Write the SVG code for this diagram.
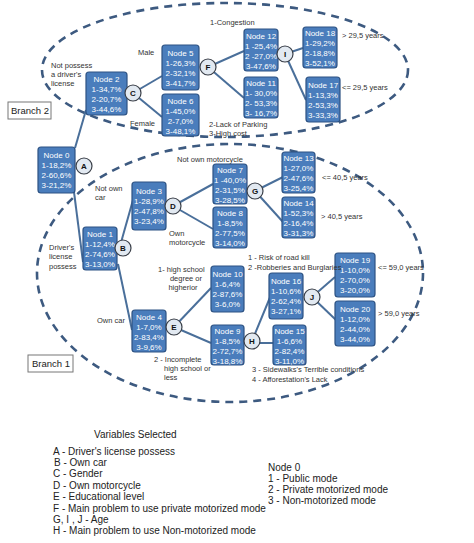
<svg xmlns="http://www.w3.org/2000/svg" width="474" height="543" viewBox="0 0 474 543">
<defs>
<style>
.bg{fill:#ffffff}
.ell{fill:none;stroke:#3d5a80;stroke-width:2.6;stroke-dasharray:8 6}
.box rect{fill:#4a7dbc;stroke:#2d5283;stroke-width:1.2}
.box text{fill:#ffffff;font-family:"Liberation Sans",Arial,sans-serif;font-size:8px;text-anchor:middle}
.cir circle{fill:#e2e9f1;stroke:#3a3f48;stroke-width:1.2}
.cir text{fill:#111;font-family:"Liberation Sans",Arial,sans-serif;font-size:8px;font-weight:bold;text-anchor:middle}
.con line{stroke:#4a6f9a;stroke-width:2}
.lbl{fill:#333;font-family:"Liberation Sans",Arial,sans-serif;font-size:7.5px}
.lblc{fill:#333;font-family:"Liberation Sans",Arial,sans-serif;font-size:7.5px;text-anchor:middle}
.br rect{fill:#fff;stroke:#777;stroke-width:1}
.br text{fill:#222;font-family:"Liberation Sans",Arial,sans-serif;font-size:9.5px}
.leg{fill:#222;font-family:"Liberation Sans",Arial,sans-serif;font-size:10px}
</style>
</defs>
<rect class="bg" x="0" y="0" width="474" height="543"/>
<g id="branches">
<ellipse class="ell" cx="225" cy="70" rx="183" ry="67"/>
<ellipse class="ell" cx="230" cy="273" rx="193" ry="129"/>
</g>
<g id="connectors" class="con">
<line x1="75" y1="148" x2="86" y2="110"/>
<line x1="74" y1="192" x2="83" y2="262"/>
<line x1="133" y1="93" x2="162" y2="76"/>
<line x1="133" y1="93" x2="162" y2="117"/>
<line x1="208" y1="67" x2="244" y2="51"/>
<line x1="208" y1="67" x2="244" y2="98"/>
<line x1="285" y1="54" x2="303" y2="48"/>
<line x1="285" y1="54" x2="306" y2="100"/>
<line x1="120" y1="246" x2="133" y2="200"/>
<line x1="118" y1="264" x2="132" y2="330"/>
<line x1="173" y1="206" x2="213" y2="184"/>
<line x1="173" y1="206" x2="213" y2="229"/>
<line x1="255" y1="191" x2="283" y2="177"/>
<line x1="255" y1="191" x2="283" y2="222"/>
<line x1="174" y1="327" x2="211" y2="288"/>
<line x1="174" y1="327" x2="211" y2="343"/>
<line x1="252" y1="341" x2="271" y2="295"/>
<line x1="252" y1="343" x2="273" y2="343"/>
<line x1="312" y1="297" x2="335" y2="277"/>
<line x1="312" y1="297" x2="336" y2="320"/>
</g>
<g id="node0" class="box"><rect x="38" y="147" width="37" height="46" rx="3"/><text x="56.5" y="158">Node 0</text><text x="56.5" y="168">1-18,2%</text><text x="56.5" y="178">2-60,6%</text><text x="56.5" y="188">3-21,2%</text></g>
<g id="node1" class="box"><rect x="83" y="227" width="34" height="43" rx="3"/><text x="100" y="237">Node 1</text><text x="100" y="247">1-12,4%</text><text x="100" y="257">2-74,6%</text><text x="100" y="267">3-13,0%</text></g>
<g id="node2" class="box"><rect x="86" y="72" width="41" height="43" rx="3"/><text x="106.5" y="82">Node 2</text><text x="106.5" y="92">1-34,7%</text><text x="106.5" y="102">2-20,7%</text><text x="106.5" y="112">3-44,6%</text></g>
<g id="node3" class="box"><rect x="132" y="182" width="34" height="48" rx="3"/><text x="149" y="194">Node 3</text><text x="149" y="204">1-28,9%</text><text x="149" y="214">2-47,8%</text><text x="149" y="224">3-23,4%</text></g>
<g id="node4" class="box"><rect x="132" y="310" width="34" height="42" rx="3"/><text x="149" y="320">Node 4</text><text x="149" y="330">1-7,0%</text><text x="149" y="340">2-83,4%</text><text x="149" y="350">3-9,6%</text></g>
<g id="node5" class="box"><rect x="162" y="45" width="37" height="45" rx="3"/><text x="180.5" y="56">Node 5</text><text x="180.5" y="66">1-26,3%</text><text x="180.5" y="76">2-32,1%</text><text x="180.5" y="86">3-41,7%</text></g>
<g id="node6" class="box"><rect x="162" y="94" width="37" height="42" rx="3"/><text x="180.5" y="104">Node 6</text><text x="180.5" y="114">1-45,0%</text><text x="180.5" y="124">2-7,0%</text><text x="180.5" y="134">3-48,1%</text></g>
<g id="node7" class="box"><rect x="213" y="164" width="34" height="40" rx="3"/><text x="230" y="173">Node 7</text><text x="230" y="183">1 -40,0%</text><text x="230" y="193">2-31,5%</text><text x="230" y="203">3-28,5%</text></g>
<g id="node8" class="box"><rect x="213" y="207" width="34" height="41" rx="3"/><text x="230" y="216">Node 8</text><text x="230" y="226">1-8,5%</text><text x="230" y="236">2-77,5%</text><text x="230" y="246">3-14,0%</text></g>
<g id="node9" class="box"><rect x="211" y="325" width="33" height="40" rx="3"/><text x="227.5" y="334">Node 9</text><text x="227.5" y="344">1-8,5%</text><text x="227.5" y="354">2-72,7%</text><text x="227.5" y="364">3-18,8%</text></g>
<g id="node10" class="box"><rect x="211" y="266" width="33" height="46" rx="3"/><text x="227.5" y="277">Node 10</text><text x="227.5" y="287">1-6,4%</text><text x="227.5" y="297">2-87,6%</text><text x="227.5" y="307">3-6,0%</text></g>
<g id="node11" class="box"><rect x="244" y="77" width="34" height="41" rx="3"/><text x="261" y="86">Node 11</text><text x="261" y="96">1- 30,0%</text><text x="261" y="106">2- 53,3%</text><text x="261" y="116">3- 16,7%</text></g>
<g id="node12" class="box"><rect x="244" y="29" width="34" height="42" rx="3"/><text x="261" y="39">Node 12</text><text x="261" y="49">1 -25,4%</text><text x="261" y="59">2 -27,0%</text><text x="261" y="69">3-47,6%</text></g>
<g id="node13" class="box"><rect x="282" y="152" width="33" height="41" rx="3"/><text x="298.5" y="161">Node 13</text><text x="298.5" y="171">1-27,0%</text><text x="298.5" y="181">2-47,6%</text><text x="298.5" y="191">3-25,4%</text></g>
<g id="node14" class="box"><rect x="282" y="197" width="33" height="41" rx="3"/><text x="298.5" y="206">Node 14</text><text x="298.5" y="216">1-52,3%</text><text x="298.5" y="226">2-16,4%</text><text x="298.5" y="236">3-31,3%</text></g>
<g id="node15" class="box"><rect x="273" y="325" width="33" height="40" rx="3"/><text x="289.5" y="334">Node 15</text><text x="289.5" y="344">1-6,6%</text><text x="289.5" y="354">2-82,4%</text><text x="289.5" y="364">3-11,0%</text></g>
<g id="node16" class="box"><rect x="269" y="273" width="34" height="46" rx="3"/><text x="286" y="284">Node 16</text><text x="286" y="294">1-10,6%</text><text x="286" y="304">2-62,4%</text><text x="286" y="314">3-27,1%</text></g>
<g id="node17" class="box"><rect x="306" y="77" width="34" height="45" rx="3"/><text x="323" y="88">Node 17</text><text x="323" y="98">1-13,3%</text><text x="323" y="108">2-53,3%</text><text x="323" y="118">3-33,3%</text></g>
<g id="node18" class="box"><rect x="303" y="27" width="34" height="41" rx="3"/><text x="320" y="36">Node 18</text><text x="320" y="46">1-29,2%</text><text x="320" y="56">2-18,8%</text><text x="320" y="66">3-52,1%</text></g>
<g id="node19" class="box"><rect x="335" y="253" width="40" height="44" rx="3"/><text x="355" y="263">Node 19</text><text x="355" y="273">1-10,0%</text><text x="355" y="283">2-70,0%</text><text x="355" y="293">3-20,0%</text></g>
<g id="node20" class="box"><rect x="335" y="301" width="40" height="45" rx="3"/><text x="355" y="312">Node 20</text><text x="355" y="322">1-12,0%</text><text x="355" y="332">2-44,0%</text><text x="355" y="342">3-44,0%</text></g>
<g id="A" class="cir"><circle cx="84" cy="166" r="8"/><text x="84" y="169">A</text></g>
<g id="B" class="cir"><circle cx="123" cy="248" r="8"/><text x="123" y="251">B</text></g>
<g id="C" class="cir"><circle cx="133" cy="93" r="8"/><text x="133" y="96">C</text></g>
<g id="D" class="cir"><circle cx="173" cy="206" r="8"/><text x="173" y="209">D</text></g>
<g id="E" class="cir"><circle cx="174" cy="327" r="8"/><text x="174" y="330">E</text></g>
<g id="F" class="cir"><circle cx="208" cy="67" r="8"/><text x="208" y="70">F</text></g>
<g id="G" class="cir"><circle cx="255" cy="191" r="8"/><text x="255" y="194">G</text></g>
<g id="H" class="cir"><circle cx="252" cy="341" r="8"/><text x="252" y="344">H</text></g>
<g id="I" class="cir"><circle cx="285" cy="54" r="8"/><text x="285" y="57">I</text></g>
<g id="J" class="cir"><circle cx="312" cy="297" r="8"/><text x="312" y="300">J</text></g>
<g id="labels">
<text class="lbl" x="51" y="68">Not possess</text>
<text class="lbl" x="51" y="77">a driver's</text>
<text class="lbl" x="51" y="86">license</text>
<text class="lbl" x="138" y="55">Male</text>
<text class="lbl" x="130" y="126">Female</text>
<text class="lbl" x="210" y="25">1-Congestion</text>
<text class="lbl" x="209" y="127">2-Lack of Parking</text>
<text class="lbl" x="209" y="136">3-High cost</text>
<text class="lbl" x="342" y="38">&gt; 29,5 years</text>
<text class="lbl" x="342" y="90">&lt;= 29,5 years</text>
<text class="lbl" x="95" y="191">Not own</text>
<text class="lbl" x="95" y="200">car</text>
<text class="lbl" x="49" y="250">Driver's</text>
<text class="lbl" x="49" y="259">license</text>
<text class="lbl" x="49" y="269">possess</text>
<text class="lbl" x="177" y="162">Not own motorcycle</text>
<text class="lbl" x="169" y="236">Own</text>
<text class="lbl" x="169" y="245">motorcycle</text>
<text class="lbl" x="322" y="180">&lt;= 40,5 years</text>
<text class="lbl" x="321" y="219">&gt; 40,5 years</text>
<text class="lbl" x="158" y="272">1-  high school</text>
<text class="lblc" x="186" y="281">degree or</text>
<text class="lblc" x="183" y="290">higherior</text>
<text class="lbl" x="97" y="323">Own car</text>
<text class="lbl" x="154" y="362">2 - Incomplete</text>
<text class="lbl" x="164" y="371">high school or</text>
<text class="lbl" x="164" y="380">less</text>
<text class="lbl" x="248" y="260">1 - Risk of road kill</text>
<text class="lbl" x="248" y="270">2 -Robberies and Burglaries</text>
<text class="lbl" x="252" y="372">3 - Sidewalks's Terrible conditions</text>
<text class="lbl" x="252" y="382">4 - Afforestation's Lack</text>
<text class="lbl" x="378" y="270">&lt;= 59,0 years</text>
<text class="lbl" x="378" y="316">&gt; 59,0 years</text>
</g>
<g id="branch2" class="br"><rect x="8" y="102" width="43" height="17"/><text x="11" y="114">Branch 2</text></g>
<g id="branch1" class="br"><rect x="28" y="355" width="45" height="17"/><text x="32" y="367">Branch 1</text></g>
<g id="legend">
<text class="leg" x="94" y="438">Variables Selected</text>
<text class="leg" x="53" y="455">A - Driver's license possess</text>
<text class="leg" x="54" y="466">B - Own car</text>
<text class="leg" x="53" y="477">C - Gender</text>
<text class="leg" x="53" y="489">D - Own motorcycle</text>
<text class="leg" x="53" y="500">E - Educational level</text>
<text class="leg" x="53" y="512">F  - Main problem to use private motorized mode</text>
<text class="leg" x="53" y="523">G,  I , J  -  Age</text>
<text class="leg" x="53" y="534">H - Main problem to use Non-motorized mode</text>
<text class="leg" x="268" y="471">Node 0</text>
<text class="leg" x="268" y="482">1 - Public mode</text>
<text class="leg" x="268" y="493">2 - Private motorized mode</text>
<text class="leg" x="268" y="504">3 - Non-motorized mode</text>
</g>
</svg>
